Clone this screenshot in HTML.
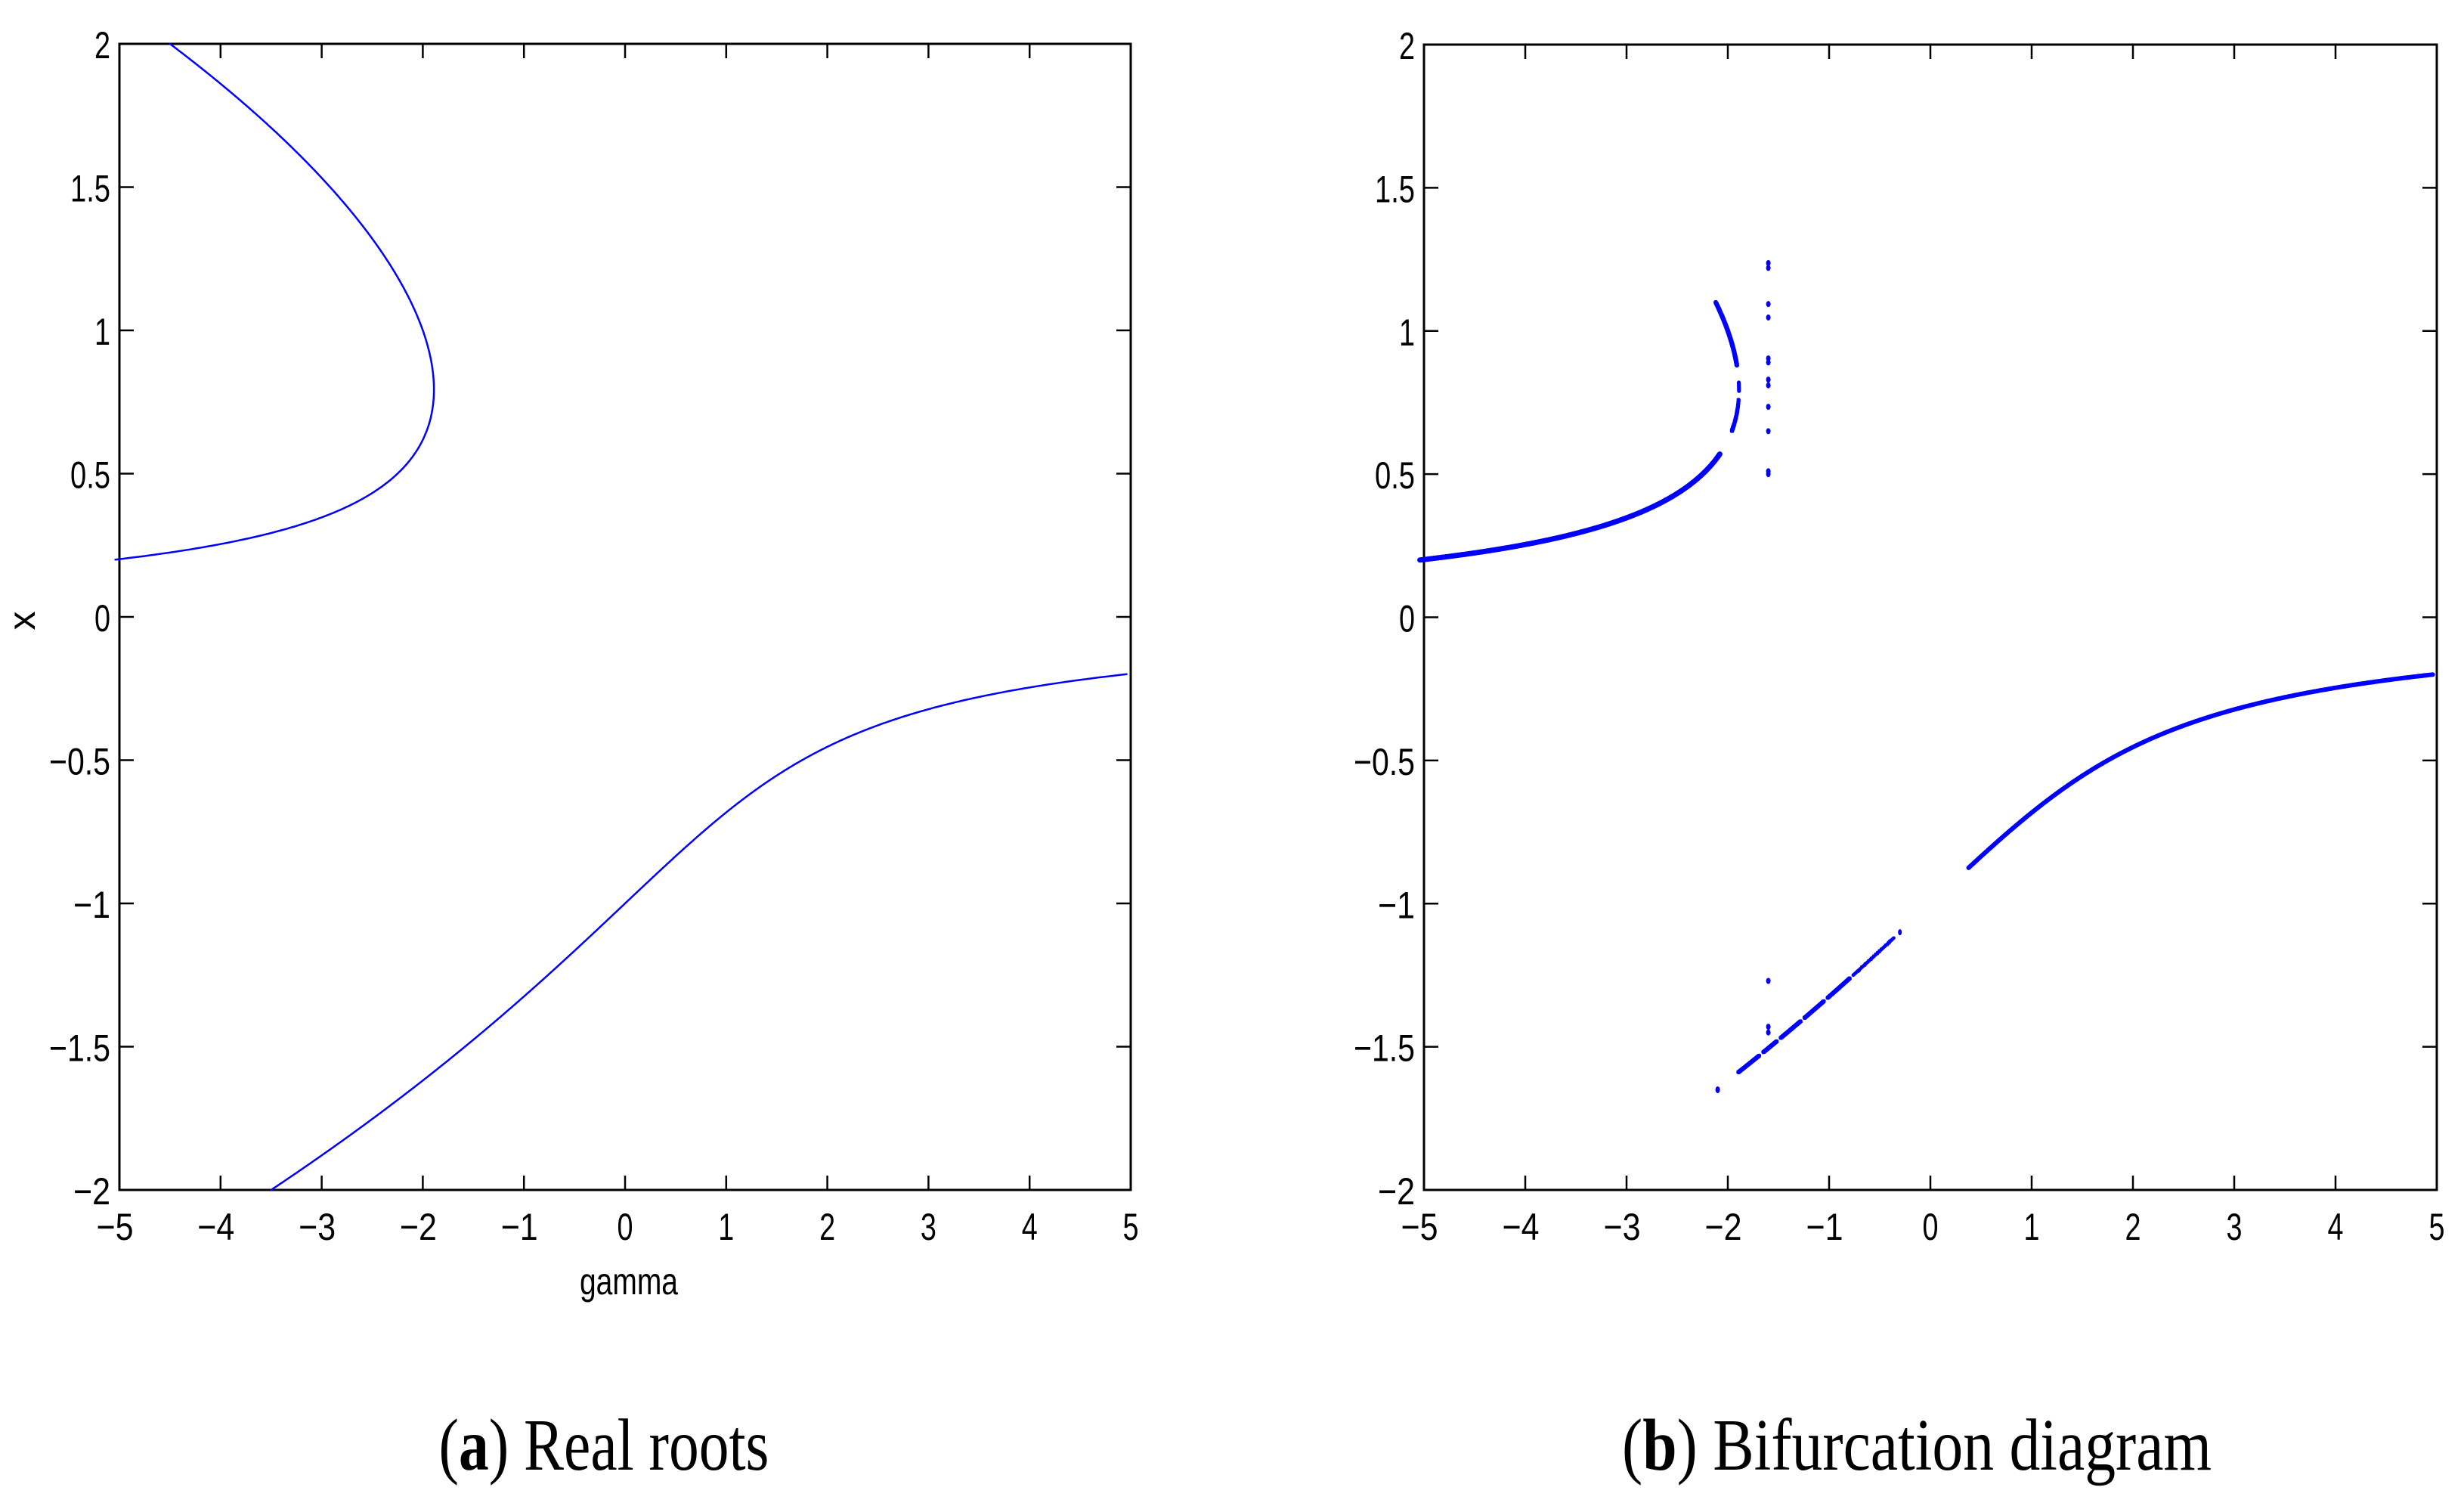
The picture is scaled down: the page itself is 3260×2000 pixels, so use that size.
<!DOCTYPE html>
<html><head><meta charset="utf-8"><style>
html,body{margin:0;padding:0;background:#fff;}
svg{display:block;}
.t{font-family:"Liberation Sans",sans-serif;font-size:50px;fill:#000;}
.c{font-family:"Liberation Serif",serif;font-size:98px;fill:#000;}
</style></head><body>
<svg id="s" width="3260" height="2000" xmlns="http://www.w3.org/2000/svg">
<text class="c" x="799" y="1944" text-anchor="middle" textLength="437" lengthAdjust="spacingAndGlyphs">(<tspan font-weight="bold">a</tspan>) Real roots</text>
<text class="c" x="2536" y="1944" text-anchor="middle" textLength="780" lengthAdjust="spacingAndGlyphs">(<tspan font-weight="bold">b</tspan>) Bifurcation diagram</text>
<text class="t" x="832" y="1712" text-anchor="middle" textLength="130" lengthAdjust="spacingAndGlyphs">gamma</text>
<text class="t" x="0" y="0" text-anchor="middle" transform="translate(46,821) rotate(-90)">x</text>
</svg>
<script>
var S=document.getElementById('s'),NS='http://www.w3.org/2000/svg';
function el(n,a){var e=document.createElementNS(NS,n);for(var k in a)e.setAttribute(k,a[k]);S.appendChild(e);return e;}
function g(x){return -1/x-x*x;}
function wid(s){var w=0;for(var c of s)w+=(c=='.'?11:(c=='\u2212'?28:21));return w;}
function axes(L,R,T,B){
  var X=function(v){return L+(v+5)/10*(R-L);},Y=function(v){return B-(v+2)/4*(B-T);};
  el('rect',{x:L,y:T,width:R-L,height:B-T,fill:'none',stroke:'#000','stroke-width':3});
  for(var i=-5;i<=5;i++){var x=X(i);
    el('line',{x1:x,y1:B,x2:x,y2:B-19,stroke:'#000','stroke-width':2.5});
    el('line',{x1:x,y1:T,x2:x,y2:T+19,stroke:'#000','stroke-width':2.5});
    var s=(i<0?'\u2212':'')+Math.abs(i);
    var t=el('text',{'class':'t',x:x-(i<0?6:0),y:1640,'text-anchor':'middle',textLength:wid(s),lengthAdjust:'spacingAndGlyphs'});t.textContent=s;}
  for(var j=-4;j<=4;j++){var v=j/2,y=Y(v);
    el('line',{x1:L,y1:y,x2:L+19,y2:y,stroke:'#000','stroke-width':2.5});
    el('line',{x1:R,y1:y,x2:R-19,y2:y,stroke:'#000','stroke-width':2.5});
    var s=(v<0?'\u2212':'')+Math.abs(v);
    var t=el('text',{'class':'t',x:L-12,y:y+19,'text-anchor':'end',textLength:wid(s),lengthAdjust:'spacingAndGlyphs'});t.textContent=s;}
  return [X,Y];
}
function path(X,Y,x0,x1,w){
  var d='',n=600;
  for(var i=0;i<=n;i++){var x=x0+(x1-x0)*i/n,gm=g(x);
    d+=(i?'L':'M')+X(gm).toFixed(1)+' '+Y(x).toFixed(1);}
  el('path',{d:d,fill:'none',stroke:'#0000ff','stroke-width':w,'stroke-linecap':'round'});
}
var a=axes(158,1496,58,1574);
path(a[0],a[1],0.2,2,2.5);
path(a[0],a[1],-2,-0.2,2.5);
var b=axes(1884,3224,59,1574),X=b[0],Y=b[1];
path(X,Y,0.2,0.57,7);
path(X,Y,0.88,1.1,6);
path(X,Y,0.79,0.82,5);
path(X,Y,0.65,0.76,5);
path(X,Y,-0.875,-0.2,6);
var segs=[[-1.59,-1.53],[-1.52,-1.48],[-1.47,-1.41],[-1.40,-1.34],[-1.33,-1.26],[-1.25,-1.12]];
segs.forEach(function(s){path(X,Y,s[0],s[1],4.5);});
el('ellipse',{cx:X(g(-1.1)),cy:Y(-1.1),rx:2.5,ry:4,fill:'#0000ff'});
el('ellipse',{cx:X(-2.1),cy:Y(-1.65),rx:3,ry:4.5,fill:'#0000ff'});
[1.237,1.22,1.094,1.047,0.904,0.89,0.83,0.81,0.735,0.65,0.51,0.50,-1.27,-1.43,-1.45].forEach(function(v){
  el('ellipse',{cx:X(-1.6),cy:Y(v),rx:3,ry:4,fill:'#0000ff'});});
</script>
</body></html>
